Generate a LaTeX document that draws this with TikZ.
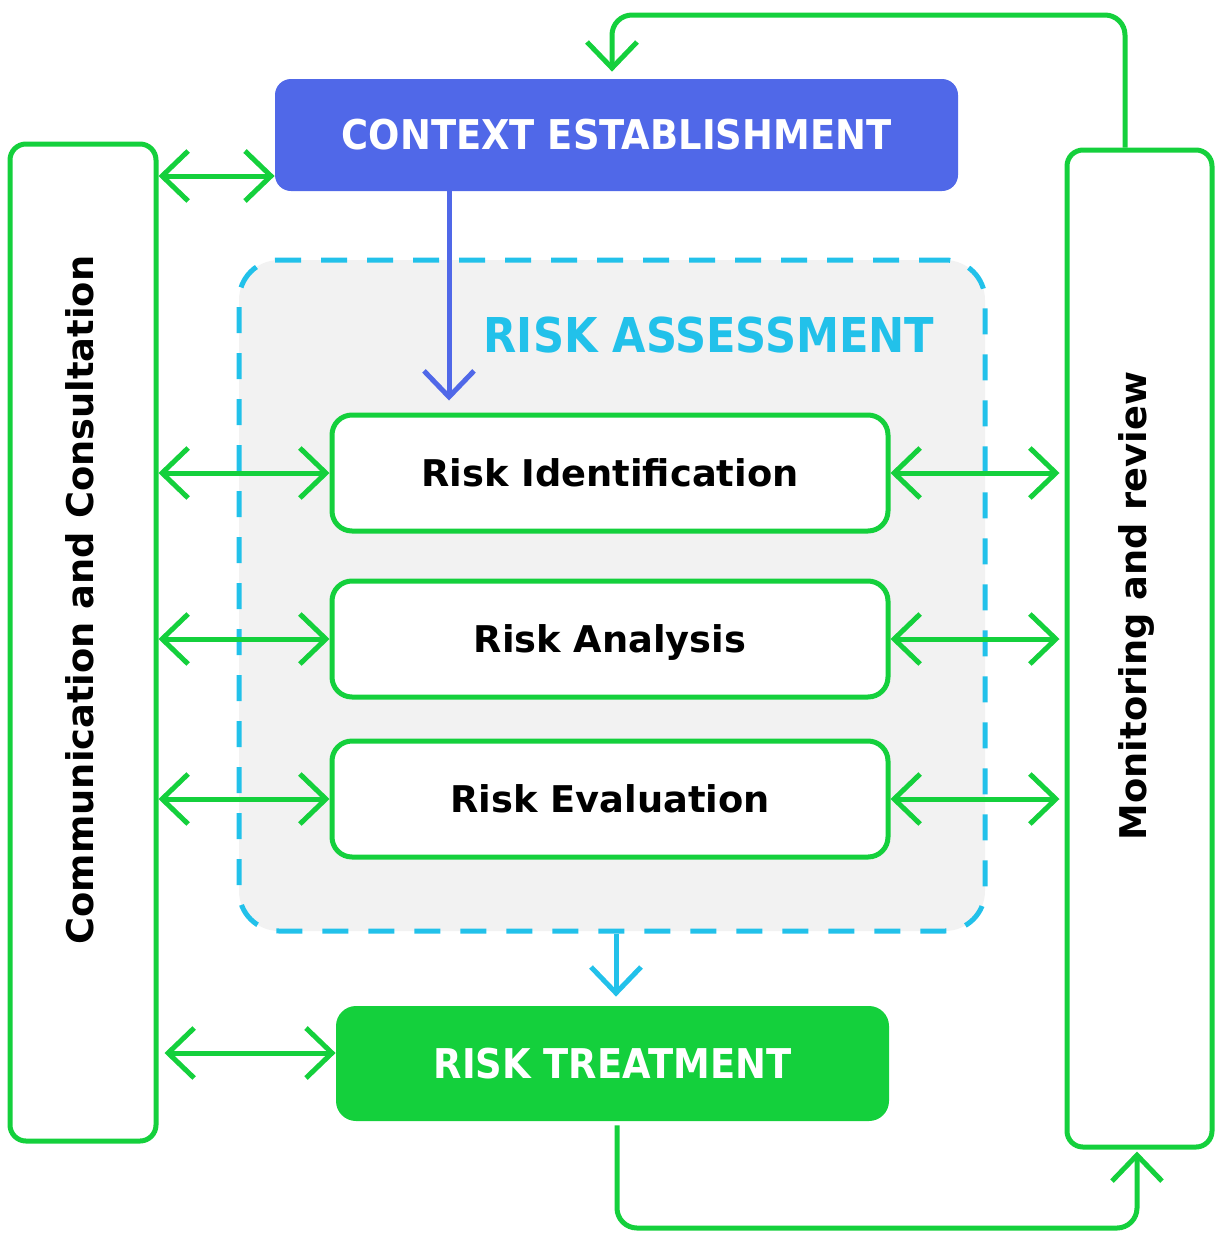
\documentclass[tikz,border=0pt]{standalone}
\usepackage{fontspec}
\setmainfont{DejaVu Sans}
\newfontfamily\capsfont[FakeStretch=0.9]{DejaVu Sans}
\usetikzlibrary{arrows.meta,calc}
\definecolor{rgreen}{HTML}{14D03C}
\definecolor{rblue}{HTML}{5068E8}
\definecolor{rcyan}{HTML}{22C1EA}
\definecolor{rgray}{HTML}{F2F2F2}
\tikzset{
  sidebox/.style={draw=rgreen, line width=2.5pt, rounded corners=8pt, fill=white, inner sep=0pt},
  stepbox/.style={draw=rgreen, line width=2.5pt, rounded corners=10pt, fill=white,
    minimum width=278pt, minimum height=58pt, inner sep=0pt, text height=13.4pt, text depth=0pt,
    font=\fontsize{18.4pt}{22pt}\selectfont\bfseries},
  sidetext/.style={rotate=90, font=\fontsize{18.4pt}{22pt}\selectfont\bfseries, inner sep=0pt},
  barb/.tip={Straight Barb[length=13pt,width=25pt]},
  garrow/.style={draw=rgreen, line width=2.5pt, {barb}-{barb}},
  sarrow/.style={line width=2.5pt, -{barb}},
}
\begin{document}
\begin{tikzpicture}[x=0.5pt,y=-0.5pt]
\useasboundingbox (0,0) rectangle (1221,1243);
% side boxes
\node[sidebox, minimum width=73pt, minimum height=498.5pt] (comm) at (83,642.5) {};
\node[sidetext] (commt) at (80,600) {Communication and Consultation};
\node[sidebox, minimum width=72.5pt, minimum height=498.5pt] (mon) at (1139.5,648.5) {};
\node[sidetext] (mont) at (1136,606) {Monitoring and review};
% context
\node[fill=rblue, rounded corners=8pt, minimum width=341.5pt, minimum height=56pt, inner sep=0pt,
  text=white, font=\capsfont\fontsize{20.5pt}{24pt}\selectfont\bfseries] (ctx) at (616.5,135) {CONTEXT ESTABLISHMENT};
% risk assessment region
\node[fill=rgray, draw=rcyan, line width=2.5pt, dash pattern=on 13pt off 10pt, rounded corners=20pt,
  minimum width=373pt, minimum height=335.5pt, inner sep=0pt] (ra) at (612,595.5) {};
\node[text=rcyan, font=\capsfont\fontsize{24pt}{28pt}\selectfont\bfseries, inner sep=0pt] (rat) at (709,335) {RISK ASSESSMENT};
% steps
\node[stepbox] (ident) at (610,473) {Risk Identification};
\node[stepbox] (anal) at (610,639) {Risk Analysis};
\node[stepbox] (eval) at (610,799) {Risk Evaluation};
% treatment
\node[fill=rgreen, rounded corners=10pt, minimum width=276.5pt, minimum height=57.5pt, inner sep=0pt,
  text=white, font=\capsfont\fontsize{20.5pt}{24pt}\selectfont\bfseries] (treat) at (612.5,1063.5) {RISK TREATMENT};
% helper coordinates
\coordinate (yctx) at (0,176);
\coordinate (ytr) at (0,1053);
\coordinate (xblue) at (449,0);
\coordinate (xcyan) at (616,0);
\coordinate (xtop) at (1125,0);
\coordinate (ytop) at (0,15);
\coordinate (xtopin) at (612,0);
\coordinate (xbot) at (617,0);
\coordinate (ybot) at (0,1228);
\coordinate (xbotin) at (1137,0);
% left arrows
\draw[garrow] (comm.east |- yctx) -- (ctx.west |- yctx);
\draw[garrow] (comm.east |- ident.west) -- (ident.west);
\draw[garrow] (comm.east |- anal.west) -- (anal.west);
\draw[garrow] (comm.east |- eval.west) -- (eval.west);
\draw[garrow, shorten <=3pt] (comm.east |- ytr) -- (treat.west |- ytr);
% right arrows
\draw[garrow, shorten >=2.5pt] (ident.east) -- (mon.west |- ident.east);
\draw[garrow, shorten >=2.5pt] (anal.east) -- (mon.west |- anal.east);
\draw[garrow, shorten >=2.5pt] (eval.east) -- (mon.west |- eval.east);
% flow arrows
\draw[sarrow, draw=rblue] (ctx.south -| xblue) -- ($(ident.north -| xblue)+(0,-12)$);
\draw[sarrow, draw=rcyan, shorten >=4.5pt] (ra.south -| xcyan) -- (treat.north -| xcyan);
% loops
\draw[sarrow, draw=rgreen, rounded corners=10pt, shorten >=3.5pt] (mon.north -| xtop) -- (xtop |- ytop) -- (xtopin |- ytop) -- (ctx.north -| xtopin);
\draw[sarrow, draw=rgreen, rounded corners=10pt, shorten <=2pt, shorten >=1pt] (treat.south -| xbot) -- (xbot |- ybot) -- (xbotin |- ybot) -- (mon.south -| xbotin);
\end{tikzpicture}
\end{document}
